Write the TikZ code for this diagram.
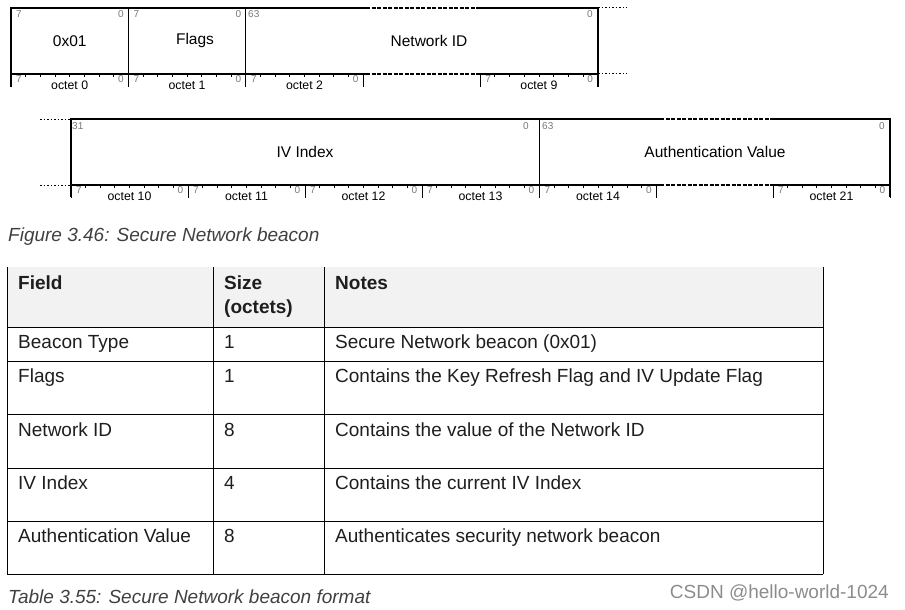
\documentclass[tikz,border=0pt]{standalone}
\usepackage{fontspec}
\setmainfont{Liberation Sans}
\definecolor{bitgray}{RGB}{120,120,120}
\definecolor{capgray}{RGB}{64,64,64}
\definecolor{hdrfill}{RGB}{242,242,242}
\definecolor{wmgray}{RGB}{140,140,140}
\definecolor{tabtext}{RGB}{30,30,30}
\begin{document}
\begin{tikzpicture}[x=1pt,y=-1pt,
  fieldtext/.style={font=\fontsize{15.5}{17}\selectfont, inner sep=0pt, anchor=base},
  bitnum/.style={font=\fontsize{10}{11}\selectfont, text=bitgray, inner sep=0pt},
  octlabel/.style={font=\fontsize{12.3}{14}\selectfont, inner sep=0pt, anchor=base},
  boxline/.style={line width=1.1pt},
  tickline/.style={line width=0.8pt},
  midgap/.style={line width=1.1pt, dash pattern=on 4pt off 1.5pt},
  extdot/.style={line width=1pt, dash pattern=on 1.5pt off 2pt},
  tabline/.style={line width=1pt},
  tabtxt/.style={font=\fontsize{19}{25}\selectfont, text=tabtext, inner sep=0pt, anchor=base west},
  tabhdr/.style={tabtxt, font=\fontsize{19}{25}\selectfont\bfseries},
  captxt/.style={font=\fontsize{19}{22}\selectfont\itshape, text=capgray, inner sep=0pt, anchor=base west}]
\useasboundingbox (0,0) rectangle (905,610);

% ---------------- Row 1 ----------------
\draw[boxline] (11,87) -- (11,8) -- (366,8);
\draw[midgap] (366,8) -- (478,8);
\draw[boxline] (478,8) -- (598,8) -- (598,87);
\draw[boxline] (11,74) -- (366,74);
\draw[midgap] (366,74) -- (478,74);
\draw[boxline] (478,74) -- (598,74);
\draw[boxline] (128.4,8) -- (128.4,74);
\draw[boxline] (245.8,8) -- (245.8,74);
\draw[extdot] (598,8) -- (627,8);
\draw[extdot] (598,74) -- (627,74);

\node[fieldtext] (f01) at (69.7,47) {0x01};
\node[fieldtext] (fflags) at (195,45) {Flags};
\node[fieldtext] (fnid) at (429,47) {Network ID};

\node[bitnum, anchor=base west] (b1a) at (16,18) {7};
\node[bitnum, anchor=base east] (b1b) at (124,18) {0};
\node[bitnum, anchor=base west] (b2a) at (133.5,18) {7};
\node[bitnum, anchor=base east] (b2b) at (241.5,18) {0};
\node[bitnum, anchor=base west] (b3a) at (248,18) {63};
\node[bitnum, anchor=base east] (b3b) at (593,18) {0};

\foreach \s/\lab/\nm in {11/octet 0/o0, 128.4/octet 1/o1, 245.8/octet 2/o2, 480.2/octet 9/o9}{
  \pgfmathsetmacro{\e}{\s+117.4}
  \draw[tickline] (\s,74) -- (\s,87);
  \draw[tickline] (\e,74) -- (\e,87);
  \foreach \k in {1,...,7}{
    \draw[tickline] ({\s+\k*117.4/8},74) -- ({\s+\k*117.4/8},77);
  }
  \node[bitnum, anchor=base west] (\nm a) at (\s+5,82.5) {7};
  \node[bitnum, anchor=base east] (\nm b) at (\e-4.5,82.5) {0};
  \node[octlabel] (\nm) at (\s+58.7,89) {\lab};
}

% ---------------- Row 2 ----------------
\draw[boxline] (71,197) -- (71,119) -- (660,119);
\draw[midgap] (660,119) -- (772,119);
\draw[boxline] (772,119) -- (890,119) -- (890,197);
\draw[boxline] (71,185) -- (660,185);
\draw[midgap] (660,185) -- (772,185);
\draw[boxline] (772,185) -- (890,185);
\draw[boxline] (539.5,119) -- (539.5,185);
\draw[extdot] (40,119) -- (71,119);
\draw[extdot] (40,185) -- (71,185);

\node[fieldtext] (fiv) at (305,157) {IV Index};
\node[fieldtext] (fauth) at (715,157) {Authentication Value};

\node[bitnum, anchor=base west] (b4a) at (72,129) {31};
\node[bitnum, anchor=base east] (b4b) at (529,129) {0};
\node[bitnum, anchor=base west] (b5a) at (542,129) {63};
\node[bitnum, anchor=base east] (b5b) at (885,129) {0};

\foreach \s/\lab/\nm in {71/octet 10/o10, 188/octet 11/o11, 305/octet 12/o12, 422/octet 13/o13, 539.5/octet 14/o14, 773/octet 21/o21}{
  \pgfmathsetmacro{\e}{\s+117}
  \draw[tickline] (\s,185) -- (\s,198);
  \draw[tickline] (\e,185) -- (\e,198);
  \foreach \k in {1,...,7}{
    \draw[tickline] ({\s+\k*117/8},185) -- ({\s+\k*117/8},188);
  }
  \node[bitnum, anchor=base west] (\nm a) at (\s+5,193.5) {7};
  \node[bitnum, anchor=base east] (\nm b) at (\e-4.5,193.5) {0};
  \node[octlabel] (\nm) at (\s+58.5,200) {\lab};
}

\node[captxt] (figcap) at (8,241) {Figure 3.46: Secure Network beacon};

% ---------------- Table ----------------
\fill[hdrfill] (7,267) rectangle (823,327);
\foreach \y in {327,361,414,468,521,574}{
  \draw[tabline] (7,\y) -- (823,\y);
}
\foreach \x in {7,213,324,823}{
  \draw[tabline] (\x,267) -- (\x,574);
}

\node[tabhdr] (hfield) at (18,289) {Field};
\node[tabhdr] (hsize) at (224,289) {Size};
\node[tabhdr] (hoct) at (224,313.5) {(octets)};
\node[tabhdr] (hnotes) at (335,289) {Notes};

\node[tabtxt] (r1a) at (18,348.5) {Beacon Type};
\node[tabtxt] (r1b) at (224,348.5) {1};
\node[tabtxt] (r1c) at (335,348.5) {Secure Network beacon (0x01)};

\node[tabtxt] (r2a) at (18,382) {Flags};
\node[tabtxt] (r2b) at (224,382) {1};
\node[tabtxt] (r2c) at (335,382) {Contains the Key Refresh Flag and IV Update Flag};

\node[tabtxt] (r3a) at (18,436) {Network ID};
\node[tabtxt] (r3b) at (224,436) {8};
\node[tabtxt] (r3c) at (335,436) {Contains the value of the Network ID};

\node[tabtxt] (r4a) at (18,489) {IV Index};
\node[tabtxt] (r4b) at (224,489) {4};
\node[tabtxt] (r4c) at (335,489) {Contains the current IV Index};

\node[tabtxt] (r5a) at (18,542) {Authentication Value};
\node[tabtxt] (r5b) at (224,542) {8};
\node[tabtxt] (r5c) at (335,542) {Authenticates security network beacon};

\node[captxt] (tabcap) at (8,603) {Table 3.55: Secure Network beacon format};

\node[font=\fontsize{19}{21}\selectfont, text=wmgray, inner sep=0pt, anchor=base east] (wm) at (889,598.5) {CSDN @hello-world-1024};
\end{tikzpicture}
\end{document}
